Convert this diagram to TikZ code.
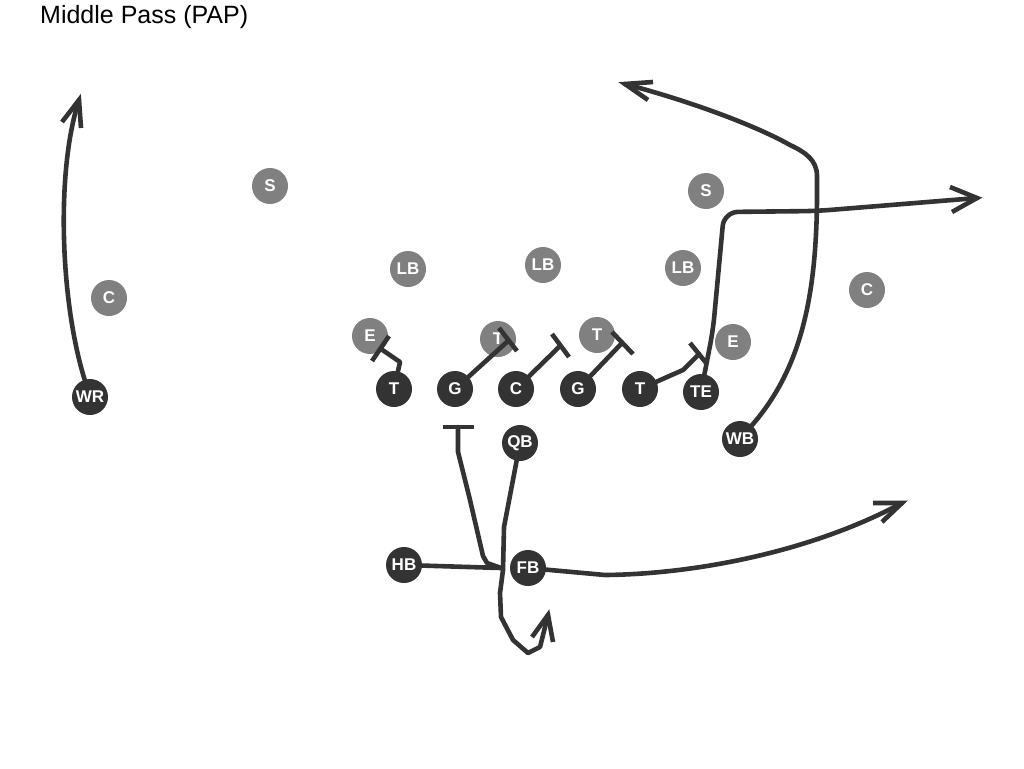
\documentclass[tikz,border=0pt]{standalone}
\usepackage{fontspec}
\setmainfont{Liberation Sans}
\definecolor{offc}{HTML}{333333}
\definecolor{defc}{HTML}{808080}
\definecolor{linec}{HTML}{333333}
\tikzset{
  player/.style={circle, minimum size=36pt, inner sep=0pt, text=white,
    font=\fontsize{17}{17}\selectfont\bfseries},
  off/.style={player, fill=offc},
  dfn/.style={player, fill=defc},
  route/.style={draw=linec, line width=4.6pt, line cap=round, line join=round},
  tip/.style={draw=linec, line width=4.6pt, line cap=butt, line join=miter},
  bar/.style={draw=linec, line width=4.6pt, line cap=butt}
}
\begin{document}
\begin{tikzpicture}[x=1pt, y=-1pt]
\useasboundingbox (0,0) rectangle (1024,768);
\node[anchor=base west, inner sep=0pt, font=\fontsize{25}{28}\selectfont] (title) at (40,24) {Middle Pass (PAP)};

% defense
\node[dfn] (dS1) at (270,186) {S};
\node[dfn] (dC1) at (109,298) {C};
\node[dfn] (dLB1) at (408,269) {LB};
\node[dfn] (dLB2) at (543,265) {LB};
\node[dfn] (dLB3) at (683,268) {LB};
\node[dfn] (dS2) at (706,191) {S};
\node[dfn] (dC2) at (867,290) {C};
\node[dfn] (dE1) at (370,336) {E};
\node[dfn] (dT1) at (498,339) {T};
\node[dfn] (dT2) at (597,335) {T};
\node[dfn] (dE2) at (733,342) {E};

% offense
\node[off] (WR) at (90,397) {WR};
\node[off] (oT1) at (394,389) {T};
\node[off] (oG1) at (455,389) {G};
\node[off] (oC) at (516,389) {C};
\node[off] (oG2) at (578,389) {G};
\node[off] (oT2) at (640,389) {T};
\node[off] (TE) at (701,392) {TE};
\node[off] (WB) at (740,439) {WB};
\node[off] (QB) at (520,443) {QB};
\node[off] (HB) at (404,565) {HB};
\node[off] (FB) at (528,568) {FB};

% coordinates for route ends
\coordinate (wrTip) at (79,100);
\coordinate (teTip) at (977,198);
\coordinate (wbTip) at (625,84);
\coordinate (fbTip) at (902,503);
\coordinate (qbTip) at (548,615);
\coordinate (hbEnd) at (458,427);
\coordinate (b1) at (381,349);
\coordinate (b2) at (508,341);
\coordinate (b3) at (560,346);
\coordinate (b4) at (622,343);
\coordinate (b5) at (699,354);

% WR route
\draw[route] (WR) .. controls (60,300) and (56,170) .. (wrTip);
\draw[tip] (62,122) -- (wrTip) -- (81,128);

% TE route
\draw[route, rounded corners=14pt] (TE) -- (713,330) -- (724,212) -- (817,211) -- (teTip);
\draw[tip] (950,187) -- (teTip) -- (952,212);

% WB route
\draw[route] (WB) .. controls (800,370) and (816,300) .. (817,200) -- (817,176)
  .. controls (817,160) and (805,152) .. (790,145)
  .. controls (760,128) and (700,104) .. (wbTip);
\draw[tip] (653,82) -- (wbTip) -- (648,100);

% FB route
\draw[route] (FB) -- (605,575) .. controls (700,574) and (815,550) .. (fbTip);
\draw[tip] (873,503) -- (fbTip) -- (882,522);

% QB route
\draw[route] (QB) -- (504,527) -- (503,570) -- (500,593) -- (501,617) -- (513,640) -- (528,653) -- (540,647) -- (qbTip);
\draw[tip] (532,637) -- (qbTip) -- (553,642);

% HB route (block)
\draw[route] (HB) -- (501,568) -- (487,563) -- (483,556) -- (470,500) -- (458,452) -- (hbEnd);
\draw[bar] (443,427) -- (474,427);

% line blocks
\draw[route] (oT1) -- (400,362) -- (b1);
\draw[bar] (372,361) -- (389,336);
\draw[route] (oG1) -- (487,360) -- (b2);
\draw[bar] (499,328) -- (517,351);
\draw[route] (oC) -- (b3);
\draw[bar] (552,334) -- (569,357);
\draw[route] (oG2) -- (b4);
\draw[bar] (612,332) -- (633,354);
\draw[route] (oT2) -- (683,370) -- (b5);
\draw[bar] (690,343) -- (707,364);
\end{tikzpicture}
\end{document}
